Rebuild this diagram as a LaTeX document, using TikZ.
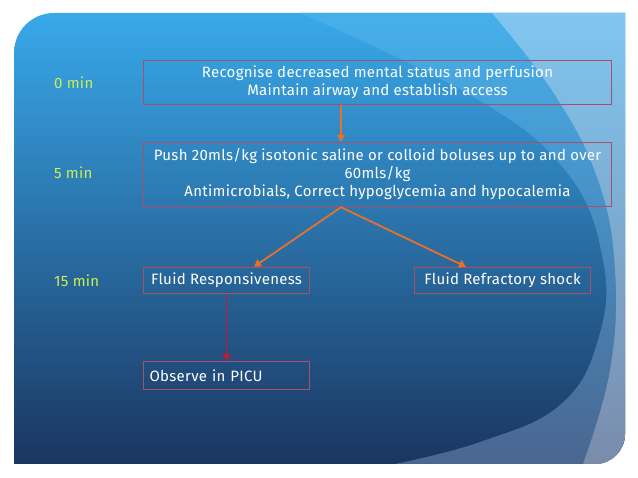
\documentclass[tikz,border=0pt]{standalone}
\usepackage{fontspec}
\setmainfont{Fira Sans}[LetterSpace=2]
\usetikzlibrary{arrows.meta}
\definecolor{boxred}{HTML}{A8506A}
\definecolor{lblgreen}{HTML}{CDEF4F}
\definecolor{arrorange}{HTML}{E8702A}
\definecolor{arrred}{HTML}{C41A30}
\definecolor{bgtop}{HTML}{38A9EA}
\definecolor{bgmid}{HTML}{2B7BBA}
\definecolor{bgbot}{HTML}{1B3560}
\begin{document}
\begin{tikzpicture}[x=1pt,y=1pt,
  box/.style={draw=boxred, line width=1.4pt, text=white, inner sep=0pt, align=center, font=\fontsize{15}{18}\selectfont},
  lbl/.style={text=lblgreen, inner sep=0pt, anchor=west, font=\fontsize{15}{18}\selectfont},
  oarr/.style={draw=arrorange, line width=1.8pt, -{Triangle[length=7pt,width=8pt]}},
  rarr/.style={draw=arrred, line width=1.8pt, -{Triangle[length=7pt,width=8pt]}}]
\useasboundingbox (0,0) rectangle (638,478);
\fill[white] (0,0) rectangle (638,478);
\begin{scope}
\clip (14,14) -- (14,300) [rounded corners=40pt] -- (14,465) -- (300,465) [sharp corners] -- (625,465) -- (625,300) [rounded corners=30pt] -- (625,14) -- (300,14) [sharp corners] -- cycle;
\shade[top color=bgtop, middle color=bgmid, bottom color=bgbot] (0,14) rectangle (638,465);
\shade[top color={rgb,255:red,70;green,176;blue,236}, middle color={rgb,255:red,79;green,139;blue,192}, bottom color={rgb,255:red,74;green,102;blue,144}]
  plot[smooth, tension=0.7] coordinates {(300,465) (470,383) (565,308) (603,218) (598,138) (560,73) (480,36) (395,14)} -- (640,14) -- (640,465) -- cycle;
\shade[top color={rgb,255:red,128;green,198;blue,240}, middle color={rgb,255:red,120;green,168;blue,208}, bottom color={rgb,255:red,122;green,140;blue,172}]
  plot[smooth, tension=0.7] coordinates {(492,465) (555,383) (598,298) (615,208) (610,108) (583,14)} -- (640,14) -- (640,465) -- cycle;
\end{scope}
\node[box, minimum width=468pt, minimum height=44pt] (b1) at (377.5,395.5) {Recognise decreased mental status and perfusion\\Maintain airway and establish access};
\node[box, minimum width=468pt, minimum height=64pt] (b2) at (377.5,303.5) {Push 20mls/kg isotonic saline or colloid boluses up to and over\\60mls/kg\\Antimicrobials, Correct hypoglycemia and hypocalemia};
\node[box, minimum width=166pt, minimum height=26pt] (b3) at (226.5,197.5) {Fluid Responsiveness};
\node[box, minimum width=176pt, minimum height=26pt] (b4) at (502.5,197.5) {Fluid Refractory shock};
\node[box, minimum width=166pt, minimum height=28pt, text width=154pt, align=left] (b5) at (226.5,102.5) {Observe in PICU};
\node[lbl] (l0) at (54,395) {0 min};
\node[lbl] (l5) at (54,305) {5 min};
\node[lbl] (l15) at (54,197) {15 min};
\coordinate (xa) at (341,0);
\coordinate (xb) at (254,0);
\coordinate (xc) at (466,0);
\draw[oarr] (b1.south -| xa) -- (b2.north -| xa);
\draw[oarr] (b2.south -| xa) -- (b3.north -| xb);
\draw[oarr] (b2.south -| xa) -- (b4.north -| xc);
\draw[rarr] (b3.south) -- (b5.north);
\end{tikzpicture}
\end{document}
